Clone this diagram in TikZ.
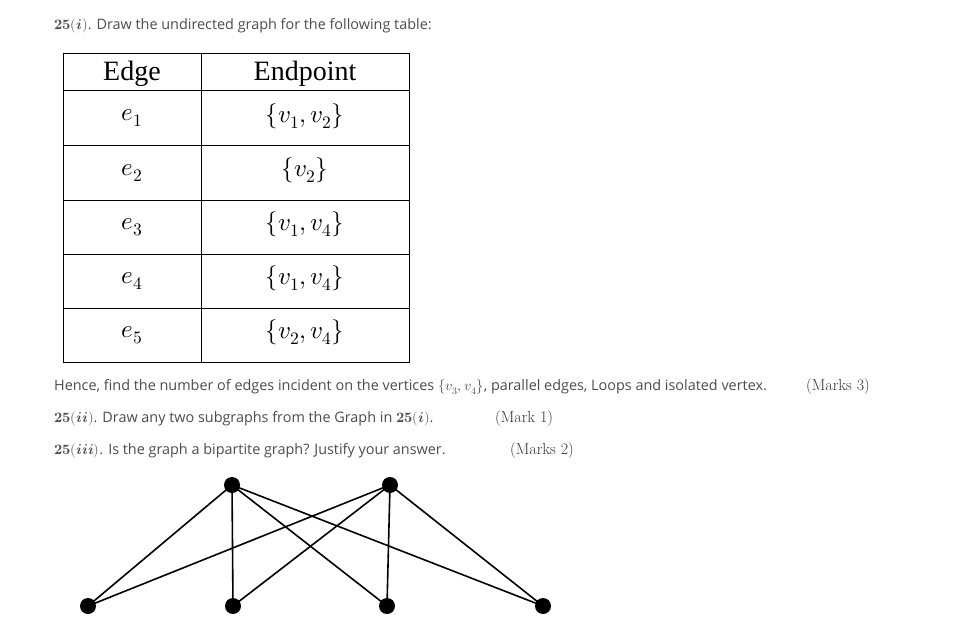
\documentclass[tikz,border=0pt]{standalone}
\usepackage{fontspec}
\setmainfont{Open Sans}
\newfontfamily\tnr{Liberation Serif}
\newfontfamily\lmr{Latin Modern Roman}
\usepackage{unicode-math}
\setmathfont{Latin Modern Math}
\begin{document}
\begin{tikzpicture}[x=1pt,y=-1pt,
  txt/.style={anchor=west,inner sep=0pt,text=black!70,font=\fontsize{14.4}{16}\selectfont},
  mk/.style={anchor=west,inner sep=0pt,text=black!80,font=\fontsize{16}{18}\selectfont\lmr},
  cell/.style={inner sep=0pt,font=\fontsize{25}{28}\selectfont},
  vtx/.style={circle,fill=black,inner sep=0pt,minimum size=16pt},
  edge/.style={line width=1.6pt}]
\useasboundingbox (0,0) rectangle (970,626);
\node[txt] (t1) at (54,26) {$\symbf{25(}\symbfit{i}\symbf{)}$. Draw the undirected graph for the following table:};
% table
\draw[line width=1pt] (63,54) rectangle (409,362);
\draw[line width=1pt] (201,54) -- (201,362);
\foreach \y in {91,145,200,254,308} \draw[line width=1pt] (63,\y) -- (409,\y);
\node[cell,font=\fontsize{28}{30}\selectfont\tnr] (h1) at (132,74) {Edge};
\node[cell,font=\fontsize{28}{30}\selectfont\tnr] (h2) at (305,74) {Endpoint};
\node[cell] (a1) at (132,118) {$e_1$};
\node[cell] (b1) at (305,116) {$\{v_1,v_2\}$};
\node[cell] (a2) at (132,173) {$e_2$};
\node[cell] (b2) at (305,170) {$\{v_2\}$};
\node[cell] (a3) at (132,227) {$e_3$};
\node[cell] (b3) at (305,224) {$\{v_1,v_4\}$};
\node[cell] (a4) at (132,281) {$e_4$};
\node[cell] (b4) at (305,278) {$\{v_1,v_4\}$};
\node[cell] (a5) at (132,335) {$e_5$};
\node[cell] (b5) at (305,332) {$\{v_2,v_4\}$};
% questions
\node[txt] (q1) at (54,387) {Hence, find the number of edges incident on the vertices $\{v_3,v_4\}$, parallel edges, Loops and isolated vertex.};
\node[mk] (m1) at (806,387) {(Marks 3)};
\node[txt] (q2) at (54,419) {$\symbf{25(}\symbfit{ii}\symbf{)}$. Draw any two subgraphs from the Graph in $\symbf{25(}\symbfit{i}\symbf{)}$.};
\node[mk] (m2) at (495,419) {(Mark 1)};
\node[txt] (q3) at (54,451) {$\symbf{25(}\symbfit{iii}\symbf{)}$. Is the graph a bipartite graph? Justify your answer.};
\node[mk] (m3) at (510,451) {(Marks 2)};
% graph
\node[vtx] (u1) at (232,485) {};
\node[vtx] (u2) at (390,485) {};
\node[vtx] (w1) at (88,606) {};
\node[vtx] (w2) at (233,606) {};
\node[vtx] (w3) at (387,606) {};
\node[vtx] (w4) at (543,606) {};
\foreach \u in {u1,u2} \foreach \w in {w1,w2,w3,w4} \draw[edge] (\u.center) -- (\w.center);
\end{tikzpicture}
\end{document}
